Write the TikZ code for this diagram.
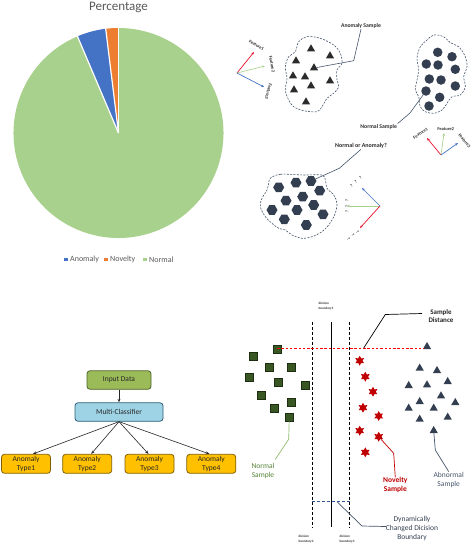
\documentclass[tikz,border=0pt]{standalone}
\usepackage{fontspec}
\setmainfont{Carlito}
\usetikzlibrary{shapes.geometric,arrows.meta}
\definecolor{pblue}{HTML}{4472C4}
\definecolor{porange}{HTML}{ED7D31}
\definecolor{pgreen}{HTML}{A9D18E}
\definecolor{txtgray}{HTML}{595959}
\definecolor{slate}{HTML}{44546A}
\definecolor{darkslate}{HTML}{333F50}
\definecolor{nearblack}{HTML}{2B2B2B}
\definecolor{axred}{HTML}{E8112D}
\definecolor{axgreen}{HTML}{A9D18E}
\definecolor{axblue}{HTML}{4472C4}
\definecolor{ingreen}{HTML}{9BBB59}
\definecolor{ingreenD}{HTML}{4F6228}
\definecolor{mcblue}{HTML}{9ED3E6}
\definecolor{mcblueD}{HTML}{2E5F75}
\definecolor{gold}{HTML}{FFC000}
\definecolor{goldD}{HTML}{7F6000}
\definecolor{sqgreen}{HTML}{385723}
\definecolor{sqgreenD}{HTML}{1E2E13}
\definecolor{normgreen}{HTML}{548235}
\definecolor{normline}{HTML}{8FBC6B}
\definecolor{starred}{HTML}{C00000}
\definecolor{dashblue}{HTML}{2F5597}
\newcommand\myfs[2]{\fontsize{#1}{#2}\selectfont}
\begin{document}
\begin{tikzpicture}[x=1pt,y=-1pt,
  tri/.style={regular polygon, regular polygon sides=3, fill=nearblack, inner sep=0pt, minimum size=9.5pt},
  atri/.style={regular polygon, regular polygon sides=3, fill=darkslate, inner sep=0pt, minimum size=9.5pt},
  dot/.style={circle, fill=darkslate, inner sep=0pt, minimum size=9.5pt},
  hexa/.style={regular polygon, regular polygon sides=6, fill=darkslate, inner sep=0pt, minimum size=11pt},
  sq/.style={rectangle, fill=sqgreen, draw=sqgreenD, line width=0.4pt, inner sep=0pt, minimum size=8pt},
  rstar/.style={star, star points=6, star point ratio=1.8, fill=starred, inner sep=0pt, minimum size=10pt},
  blob/.style={draw=slate, dashed, dash pattern=on 2pt off 1.3pt, line width=0.6pt},
  ptr/.style={draw=slate, line width=0.6pt},
  axis/.style={-{Stealth[length=3pt,width=2.4pt]}, line width=0.7pt},
  flabel/.style={font=\myfs{4.5}{5}\bfseries, text=nearblack, inner sep=0pt},
  qm/.style={font=\myfs{4.2}{5}\bfseries, text=nearblack, inner sep=0pt},
  toplabel/.style={font=\myfs{5.7}{7}\bfseries, text=nearblack, inner sep=0.5pt},
  fbox/.style={rectangle, rounded corners=3pt, line width=0.8pt, inner sep=1pt, align=center, font=\myfs{7.5}{8.8}, text=black!85},
  abox/.style={fbox, fill=gold, draw=goldD, minimum width=49pt, minimum height=19pt},
  farrow/.style={-{Stealth[length=3.5pt,width=2.8pt]}, line width=0.6pt, draw=black!85},
  blabel/.style={font=\myfs{7.5}{9}, align=center, inner sep=0pt},
  tiny/.style={font=\myfs{3.3}{5.2}\bfseries, align=left, inner sep=0pt, text=black!80}
]
\useasboundingbox (0,0) rectangle (474,544);

% ---------------- Pie chart ----------------
\node[font=\myfs{13}{15}, text=txtgray] (ptitle) at (118.5,7.5) {Percentage};
\begin{scope}[shift={(118.5,133)}, yscale=-1]
  \fill[pgreen] (0,0) -- (113:105) arc (113:450:105) -- cycle;
  \fill[pblue] (0,0) -- (97:105) arc (97:113:105) -- cycle;
  \fill[porange] (0,0) -- (90:105) arc (90:97:105) -- cycle;
  \draw[white, line width=1.2pt] (0,0) -- (90:106);
  \draw[white, line width=1.2pt] (0,0) -- (97:106);
  \draw[white, line width=1.2pt] (0,0) -- (113:106);
\end{scope}
\node[fill=pblue, inner sep=0pt, minimum size=3.6pt] (lg1) at (66,259.3) {};
\node[anchor=west, font=\myfs{8}{9}, text=txtgray, inner sep=0pt] (lt1) at (70,259.3) {Anomaly};
\node[fill=porange, inner sep=0pt, minimum size=3.6pt] (lg2) at (106,259.3) {};
\node[anchor=west, font=\myfs{8}{9}, text=txtgray, inner sep=0pt] (lt2) at (110,259.3) {Novelty};
\node[fill=pgreen, inner sep=0pt, minimum size=3.6pt] (lg3) at (145,259.3) {};
\node[anchor=west, font=\myfs{8}{9}, text=txtgray, inner sep=0pt] (lt3) at (149,259.3) {Normal};

% ---------------- Top right: feature spaces ----------------
% axes 1
\coordinate (o1) at (237,73);
\coordinate (o1r) at (254,52);
\coordinate (o1g) at (265,66);
\coordinate (o1b) at (264,87);
\draw[axis, axred] (o1) -- (o1r);
\draw[axis, axgreen] (o1) -- (o1g);
\draw[axis, axblue] (o1) -- (o1b);
\node[flabel, rotate=-30] (f11) at (256.5,45.5) {Feature1};
\node[flabel, rotate=-80] (f12) at (272,64) {Feature2};
\node[flabel, rotate=-105] (f13) at (268.5,91.5) {Feature3};

% triangle cluster
\draw[blob] plot[smooth cycle, tension=0.55] coordinates {(298.7,41.7) (307,36.7) (320.3,38.3) (333.7,45) (340.3,53.3) (342,63.3) (337,70) (337,80) (338.7,86.7) (333.7,93.3) (327,98.3) (322,106.7) (317,111.7) (303.7,110.7) (293.7,106.7) (288.7,100) (285.3,90) (287,78.3) (285.3,66.7) (288.7,56.7) (295.3,51.7)};
\foreach \x/\y [count=\i] in {311/49,330/56,296/61,314/68,293/76,305/77,330/81,294/90,311/86,306/102}
  \node[tri] (t\i) at (\x,\y) {};
\node[toplabel] (lanom) at (361,26) {Anomaly Sample};
\draw[ptr] (lanom.south) -- (353.7,60.7) -- (t4);

% circle cluster
\draw[blob] plot[smooth cycle, tension=0.55] coordinates {(433.7,35) (443.7,36.7) (450.3,42.7) (458.7,46.7) (465.3,56.7) (467,66.7) (463.7,76.7) (465.3,86.7) (460.3,95) (452,96.7) (447,103.3) (442,110) (433.7,113.3) (425.3,111.7) (420.3,106.7) (418.7,96.7) (415.3,90) (417,80) (418.7,70) (417,58.3) (420.3,46.7) (427,40)};
\foreach \x/\y [count=\i] in {437.7/52.3,452/56.7,426.3/64,438/65,455.3/69.3,429.3/79,441/80,455.3/86,426/91,439.7/97.3,429/106}
  \node[dot] (c\i) at (\x,\y) {};
\node[toplabel] (lnorm) at (378.7,126.7) {Normal Sample};
\draw[ptr] (lnorm.north east) -- (410,113) -- (c9);

% axes 2
\coordinate (o2) at (441,155);
\coordinate (o2r) at (427,138);
\coordinate (o2g) at (444,133);
\coordinate (o2b) at (458,143);
\draw[axis, axred] (o2) -- (o2r);
\draw[axis, axgreen] (o2) -- (o2g);
\draw[axis, axblue] (o2) -- (o2b);
\node[flabel, rotate=33] (f21) at (420.5,133.5) {Feature1};
\node[flabel, rotate=-3] (f22) at (445.7,129) {Feature2};
\node[flabel, rotate=-50] (f23) at (464.5,140.5) {Feature3};

% hexagon cluster
\draw[blob] plot[smooth cycle, tension=0.55] coordinates {(270.3,178.3) (280.3,174.3) (303.7,175) (322,175) (325.3,180) (327,188.3) (333.7,195) (337,203.3) (335.3,213.3) (332,220) (328.7,225) (322,231.7) (312,236.7) (302,238.3) (292,235) (285.3,230) (278.7,228.3) (272,223.3) (265.3,216.7) (260.3,206.7) (262,198.3) (267,190) (268.7,183.3)};
\foreach \x/\y [count=\i] in {278.7/187.3,296/182.7,311/181,319.7/190.7,286/200.7,302.7/196.7,313.7/205,272/210,297/210,323/214.3,284.3/219.3,306.3/225}
  \node[hexa] (h\i) at (\x,\y) {};
\node[toplabel, font=\myfs{6}{7}\bfseries] (lqa) at (361,146) {Normal or Anomaly?};
\draw[ptr] (lqa.south) -- (339.3,168.3) -- (h3);

% axes 3
\coordinate (o3) at (380,206);
\coordinate (o3b) at (362,188);
\coordinate (o3g) at (347,206);
\coordinate (o3r) at (360,228);
\draw[axis, axblue] (o3) -- (o3b);
\draw[axis, axgreen] (o3) -- (o3g);
\draw[axis, axred] (o3) -- (o3r);
\foreach \x/\y [count=\i] in {351.5/186,356/182,360.5/178}
  \node[qm, rotate=40] (qa\i) at (\x,\y) {?};
\foreach \x/\y [count=\i] in {347/201,347/206.5,347/212}
  \node[qm, rotate=90] (qb\i) at (\x,\y) {?};
\foreach \x/\y [count=\i] in {348.5/239,353/235.5,357.5/232}
  \node[qm, rotate=-45] (qc\i) at (\x,\y) {?};

% ---------------- Bottom left: flowchart ----------------
\node[fbox, fill=ingreen, draw=ingreenD, minimum width=64pt, minimum height=18.5pt] (in) at (119,380) {Input Data};
\node[fbox, fill=mcblue, draw=mcblueD, minimum width=88pt, minimum height=18.5pt] (mc) at (119,412) {Multi-Classifier};
\node[abox] (a1) at (26,463.8) {Anomaly\\Type1};
\node[abox] (a2) at (87.2,463.8) {Anomaly\\Type2};
\node[abox] (a3) at (149.5,463.8) {Anomaly\\Type3};
\node[abox] (a4) at (211.3,463.8) {Anomaly\\Type4};
\draw[farrow] (in) -- (mc);
\draw[farrow] (mc.south) -- ([xshift=7pt]a1.north);
\draw[farrow] (mc.south) -- ([xshift=4pt]a2.north);
\draw[farrow] (mc.south) -- ([xshift=-1pt]a3.north);
\draw[farrow] (mc.south) -- ([xshift=-2pt]a4.north);

% ---------------- Bottom right: decision boundaries ----------------
\coordinate (d1t) at (312,321.5);
\coordinate (d1b) at (312,527);
\coordinate (d0t) at (331,321.5);
\coordinate (d0b) at (331,527);
\coordinate (d2t) at (349.7,321.5);
\coordinate (d2b) at (349.7,527);
\draw[black, dashed, dash pattern=on 3pt off 2pt, line width=1pt] (d1t) -- (d1b);
\draw[black, line width=0.9pt] (d0t) -- (d0b);
\draw[black, dashed, dash pattern=on 3pt off 2pt, line width=1pt] (d2t) -- (d2b);
\node[tiny] (db1) at (326,306) {dicision\\boundary1};
\node[tiny] (db2) at (306,539) {dicision\\boundary2};
\node[tiny] (db3) at (347,539) {dicision\\boundary3};

\foreach \x/\y [count=\i] in {277/348.7,253/356,269.3/366.7,291.3/366.7,249.3/377.3,277.7/381.7,305.3/385,261/395,291/401.7,273.7/408.3,289.3/417.3}
  \node[sq] (s\i) at (\x,\y) {};
\foreach \x/\y [count=\i] in {359.7/360.7,365.3/376.7,373/391.7,363/407.7,378.7/416,359.7/430.7,378.7/436.7,365.3/452.3}
  \node[rstar] (r\i) at (\x,\y) {};
\foreach \x/\y [count=\i] in {427/346.7,419.7/368.3,437/370.7,408.7/385.7,427/385,447.7/381.7,441/396,419.7/401.7,408.7/408.3,433.7/408.3,455.3/402.7,419.7/419.3,447.7/417.3,433.7/430.7}
  \node[atri] (b\i) at (\x,\y) {};

% sample distance
\draw[red, dashed, dash pattern=on 2.5pt off 1.8pt, line width=0.8pt] (s1.center) -- (s1.center -| b1.west);
\coordinate (sdend) at (363.7,348);
\node[font=\myfs{7}{8.4}\bfseries, align=center, inner sep=0pt, text=black!85] (lsd) at (441,316) {Sample\\Distance};
\draw[black, line width=0.7pt] (422,313.5) -- (385.3,314.5) -- (sdend);

% labels
\node[blabel, text=normgreen] (lns) at (263,470.5) {Normal\\Sample};
\draw[normline, line width=0.7pt] (s11) -- (288.7,439.3) -- (275.3,459.3);
\node[blabel, text=starred, font=\myfs{7.5}{9}\bfseries] (lnv) at (395.3,485.3) {Novelty\\Sample};
\draw[starred, line width=0.7pt] (r7) -- (393.7,453.3) -- (lnv.north);
\node[blabel, text=slate] (lab) at (448.7,479.5) {Abnormal\\Sample};
\draw[slate, line width=0.7pt] (b14) -- (435.3,450) -- (lab.north);

% dynamic boundary
\coordinate (bd1) at (312,501.7);
\coordinate (bd2) at (349.7,501.7);
\draw[dashblue, dashed, dash pattern=on 3pt off 2pt, line width=0.9pt] (bd1) -- (bd2);
\node[blabel, text=darkslate] (ldyn) at (412,528.5) {Dynamically\\Changed Dicision\\Boundary};
\coordinate (bdp) at (337,501.7);
\draw[slate, line width=0.7pt] (bdp) -- (362,526) -- (ldyn.west |- 0,526.5);
\end{tikzpicture}
\end{document}
